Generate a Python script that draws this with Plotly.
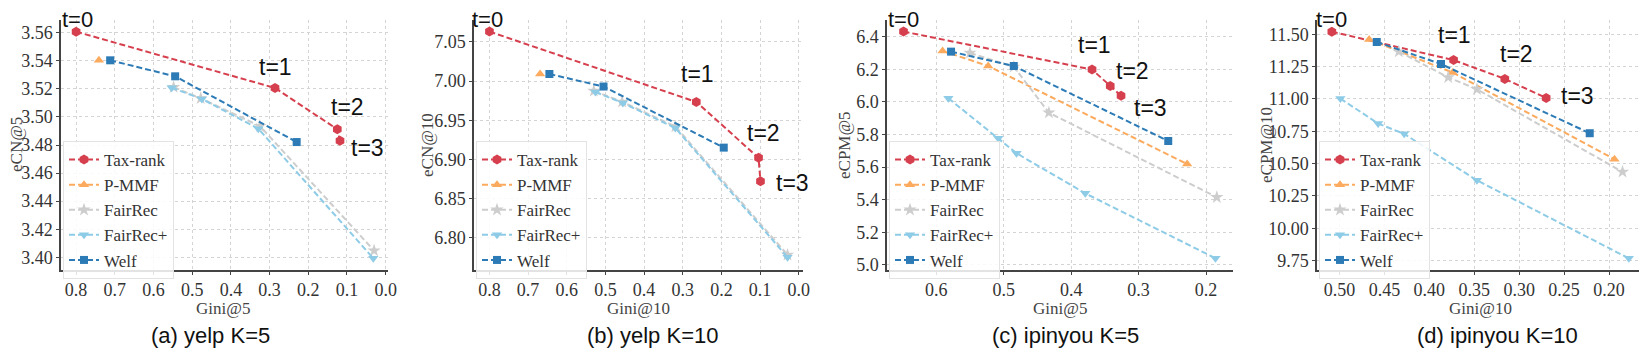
import plotly.graph_objects as go

methods = ["Tax-rank", "P-MMF", "FairRec", "FairRec+", "Welf"]

# Panel (a) yelp K=5
a_taxrank_x = [0.800, 0.286, 0.125, 0.118]
a_taxrank_y = [3.5607, 3.5206, 3.4912, 3.4830]
a_pmmf_x = [0.741]
a_pmmf_y = [3.5403]
a_fairrec_x = [0.548, 0.478, 0.325, 0.030]
a_fairrec_y = [3.5212, 3.5132, 3.4935, 3.4048]
a_fairrecp_x = [0.553, 0.475, 0.329, 0.032]
a_fairrecp_y = [3.5208, 3.5128, 3.4916, 3.3993]
a_welf_x = [0.712, 0.544, 0.230]
a_welf_y = [3.5403, 3.5289, 3.4821]

# Panel (b) yelp K=10
b_taxrank_x = [0.800, 0.265, 0.104, 0.099]
b_taxrank_y = [7.0632, 6.9733, 6.9020, 6.8720]
b_pmmf_x = [0.669]
b_pmmf_y = [7.0090]
b_fairrec_x = [0.530, 0.457, 0.319, 0.029]
b_fairrec_y = [6.9875, 6.9735, 6.9420, 6.7780]
b_fairrecp_x = [0.526, 0.455, 0.319, 0.029]
b_fairrecp_y = [6.9860, 6.9720, 6.9400, 6.7750]
b_welf_x = [0.645, 0.505, 0.194]
b_welf_y = [7.0090, 6.9930, 6.9150]

# Panel (c) ipinyou K=5
c_taxrank_x = [0.6485, 0.369, 0.342, 0.326]
c_taxrank_y = [6.431, 6.198, 6.098, 6.038]
c_pmmf_x = [0.5906, 0.523, 0.228]
c_pmmf_y = [6.312, 6.220, 5.619]
c_fairrec_x = [0.550, 0.485, 0.433, 0.184]
c_fairrec_y = [6.300, 6.215, 5.934, 5.415]
c_fairrecp_x = [0.582, 0.508, 0.481, 0.379, 0.186]
c_fairrecp_y = [6.022, 5.777, 5.685, 5.439, 5.041]
c_welf_x = [0.578, 0.485, 0.256]
c_welf_y = [6.308, 6.220, 5.760]

# Panel (d) ipinyou K=10
d_taxrank_x = [0.5085, 0.373, 0.316, 0.270]
d_taxrank_y = [11.520, 11.300, 11.155, 11.008]
d_pmmf_x = [0.467, 0.374, 0.194]
d_pmmf_y = [11.460, 11.204, 10.534]
d_fairrec_x = [0.434, 0.379, 0.347, 0.185]
d_fairrec_y = [11.366, 11.167, 11.075, 10.436]
d_fairrecp_x = [0.499, 0.457, 0.428, 0.347, 0.178]
d_fairrecp_y = [11.003, 10.810, 10.730, 10.371, 9.768]
d_welf_x = [0.4585, 0.387, 0.2215]
d_welf_y = [11.440, 11.270, 10.735]

panel_captions = ["(a) yelp K=5", "(b) yelp K=10", "(c) ipinyou K=5", "(d) ipinyou K=10"]
x_titles = ["Gini@5", "Gini@10", "Gini@5", "Gini@10"]
y_titles = ["eCN@5", "eCN@10", "eCPM@5", "eCPM@10"]
step_labels = ["t=0", "t=1", "t=2", "t=3"]

x_ticks = [
    [0.8, 0.7, 0.6, 0.5, 0.4, 0.3, 0.2, 0.1, 0.0],
    [0.8, 0.7, 0.6, 0.5, 0.4, 0.3, 0.2, 0.1, 0.0],
    [0.6, 0.5, 0.4, 0.3, 0.2],
    [0.50, 0.45, 0.40, 0.35, 0.30, 0.25, 0.20],
]
y_ticks = [
    [3.40, 3.42, 3.44, 3.46, 3.48, 3.50, 3.52, 3.54, 3.56],
    [6.80, 6.85, 6.90, 6.95, 7.00, 7.05],
    [5.0, 5.2, 5.4, 5.6, 5.8, 6.0, 6.2, 6.4],
    [9.75, 10.00, 10.25, 10.50, 10.75, 11.00, 11.25, 11.50],
]
x_fmt = [".1f", ".1f", ".1f", ".2f"]
y_fmt = [".2f", ".2f", ".1f", ".2f"]

panels = [
    [(a_taxrank_x, a_taxrank_y), (a_pmmf_x, a_pmmf_y), (a_fairrec_x, a_fairrec_y),
     (a_fairrecp_x, a_fairrecp_y), (a_welf_x, a_welf_y)],
    [(b_taxrank_x, b_taxrank_y), (b_pmmf_x, b_pmmf_y), (b_fairrec_x, b_fairrec_y),
     (b_fairrecp_x, b_fairrecp_y), (b_welf_x, b_welf_y)],
    [(c_taxrank_x, c_taxrank_y), (c_pmmf_x, c_pmmf_y), (c_fairrec_x, c_fairrec_y),
     (c_fairrecp_x, c_fairrecp_y), (c_welf_x, c_welf_y)],
    [(d_taxrank_x, d_taxrank_y), (d_pmmf_x, d_pmmf_y), (d_fairrec_x, d_fairrec_y),
     (d_fairrecp_x, d_fairrecp_y), (d_welf_x, d_welf_y)],
]

# ---- styles / layout ----
# page body has an 8px margin, so the figure is shifted by OFF px; all
# positions below are given in screen pixels and converted.
OFF = 8
SW, SH = 1647, 350
W, H = SW - OFF, SH - OFF


def fx(px):
    return (px - OFF) / W


def fy(py):
    return (SH - py) / H


colors = ["#d6404e", "#fbaa5e", "#cdcdcd", "#8dcbe6", "#2c7bb6"]
symbols = ["hexagon", "triangle-up", "star", "triangle-down", "square"]
msizes = [10, 9, 10, 9, 8]
px_lr = [(61, 388), (474, 803), (887, 1233), (1317, 1645)]
px_tb = (20, 270)
x_ranges = [[0.839, -0.006], [0.840, -0.011], [0.673, 0.160], [0.525, 0.160]]
y_ranges = [[3.391, 3.569], [6.7587, 7.078], [4.969, 6.502], [9.678, 11.61]]
caption_x = [210, 652, 1065, 1497]
xtitle_x = [223, 638, 1060, 1480]
ytitle_x = [17, 428, 845, 1267]
label_shifts = [
    [(1, 12), (0, 21), (10, 22), (27, -7)],
    [(-2, 12), (1, 28), (5, 25), (32, -2)],
    [(0, 12), (2, 25), (22, 15), (29, -12)],
    [(0, 12), (1, 25), (12, 25), (31, 2)],
]
label_sizes = [22, 23, 23, 23]

SERIF = "Liberation Serif"
SANS = "Liberation Sans"

fig = go.Figure()
layout = dict(
    width=W, height=H, margin=dict(l=0, r=0, t=0, b=0, pad=0, autoexpand=False),
    paper_bgcolor="white", plot_bgcolor="white", showlegend=True,
    annotations=[],
)

for p in range(4):
    ax = "" if p == 0 else str(p + 1)
    legname = "legend" if p == 0 else f"legend{p + 1}"
    for m, (xs, ys) in enumerate(panels[p]):
        fig.add_trace(go.Scatter(
            x=xs, y=ys, mode="lines+markers", name=methods[m],
            xaxis="x" + ax, yaxis="y" + ax, legend=legname,
            line=dict(color=colors[m], width=2, dash="6px,3px"),
            marker=dict(symbol=symbols[m], size=msizes[m], color=colors[m]),
            cliponaxis=False,
        ))
    l, r = px_lr[p]
    t, b = px_tb
    common = dict(
        showgrid=True, gridcolor="#d4d4d4", griddash="dot", gridwidth=1,
        zeroline=False, showline=True, linecolor="#444", linewidth=1.5,
        ticks="outside", ticklen=3, tickcolor="#444", automargin=False,
        tickfont=dict(family=SERIF, size=18, color="#333"),
    )
    layout["xaxis" + ax] = dict(
        domain=[fx(l), min(fx(r), 1.0)], anchor="y" + ax, range=x_ranges[p],
        tickvals=x_ticks[p], tickformat=x_fmt[p], **common,
    )
    layout["yaxis" + ax] = dict(
        domain=[fy(b), fy(t)], anchor="x" + ax, range=y_ranges[p],
        tickvals=y_ticks[p], tickformat=y_fmt[p], **common,
    )
    layout[legname] = dict(
        x=fx(l + 2), y=fy(279), xanchor="left", yanchor="bottom",
        bgcolor="rgba(255,255,255,0.85)", bordercolor="#e3e3e3", borderwidth=1,
        font=dict(family=SERIF, size=17, color="#333"),
        tracegroupgap=0, itemwidth=30,
    )
    layout["annotations"].append(dict(
        text=x_titles[p], x=fx(xtitle_x[p]), y=fy(308),
        xref="paper", yref="paper", xanchor="center", yanchor="middle",
        showarrow=False, font=dict(family=SERIF, size=17, color="#444"),
    ))
    layout["annotations"].append(dict(
        text=y_titles[p], x=fx(ytitle_x[p]), y=fy(145), textangle=-90,
        xref="paper", yref="paper", xanchor="center", yanchor="middle",
        showarrow=False, font=dict(family=SERIF, size=17, color="#444"),
    ))
    layout["annotations"].append(dict(
        text=panel_captions[p], x=fx(caption_x[p]), y=fy(335),
        xref="paper", yref="paper", xanchor="center", yanchor="middle",
        showarrow=False, font=dict(family=SANS, size=22, color="#111"),
    ))
    tx, ty = panels[p][0]
    for k in range(len(step_labels)):
        dx, dy = label_shifts[p][k]
        layout["annotations"].append(dict(
            text=step_labels[k], x=tx[k], y=ty[k], xref="x" + ax, yref="y" + ax,
            xshift=dx, yshift=dy, showarrow=False, xanchor="center", yanchor="middle",
            font=dict(family=SANS, size=label_sizes[k], color="#111"),
        ))

fig.update_layout(**layout)
fig.write_html("out.html")
